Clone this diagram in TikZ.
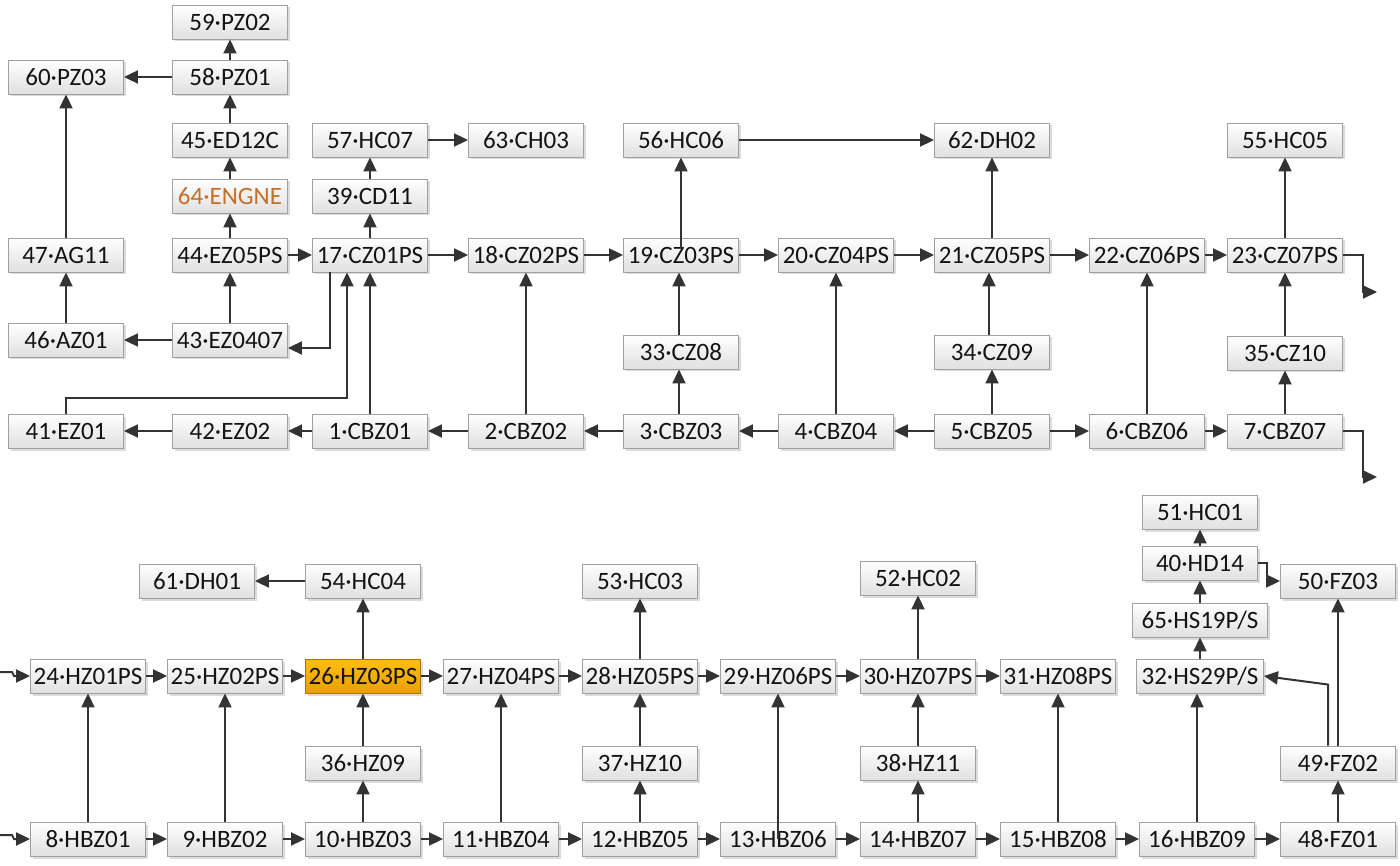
\documentclass[tikz,border=0pt]{standalone}
\usepackage{fontspec}
\setmainfont{Carlito}
\usetikzlibrary{arrows.meta,shadows,calc}
\definecolor{linec}{HTML}{333333}
\definecolor{textc}{HTML}{141414}
\definecolor{orangetxt}{HTML}{C5702A}
\definecolor{boxborder}{HTML}{A0A0A0}
\definecolor{boxbottom}{HTML}{E0E0E0}
\definecolor{hottop}{HTML}{FFBF10}
\definecolor{hotbottom}{HTML}{E8A000}
\definecolor{hotborder}{HTML}{A87400}
\tikzset{
  box/.style={draw=boxborder, line width=0.9pt, top color=white, bottom color=boxbottom,
    minimum width=115pt, minimum height=34pt, inner sep=3pt, text=textc,
    font=\fontsize{25}{28}\selectfont,
    drop shadow={shadow xshift=2.5pt, shadow yshift=-2.5pt, fill=black, opacity=0.14}},
  hot/.style={box, top color=hottop, bottom color=hotbottom, draw=hotborder},
  arr/.style={draw=linec, line width=2pt, -{Triangle[length=14pt,width=13pt]}},
}
\begin{document}
\begin{tikzpicture}[x=1pt,y=-1pt]
\fill[white] (0,0) rectangle (1400,866);
\useasboundingbox (0,0) rectangle (1400,866);
% ---------- top section ----------
\node[box] (n59) at (230,22) {59·PZ02};
\node[box] (n58) at (230,77) {58·PZ01};
\node[box] (n60) at (66,77) {60·PZ03};
\node[box] (n45) at (230,140) {45·ED12C};
\node[box] (n57) at (370,140) {57·HC07};
\node[box] (n63) at (526,140) {63·CH03};
\node[box] (n56) at (681,140) {56·HC06};
\node[box] (n62) at (992,140) {62·DH02};
\node[box] (n55) at (1285,140) {55·HC05};
\node[box, text=orangetxt] (n64) at (230,196) {64·ENGNE};
\node[box] (n39) at (370,196) {39·CD11};
\node[box] (n47) at (66,255) {47·AG11};
\node[box] (n44) at (230,255) {44·EZ05PS};
\node[box] (n17) at (370,255) {17·CZ01PS};
\node[box] (n18) at (526,255) {18·CZ02PS};
\node[box] (n19) at (681,255) {19·CZ03PS};
\node[box] (n20) at (836,255) {20·CZ04PS};
\node[box] (n21) at (992,255) {21·CZ05PS};
\node[box] (n22) at (1147,255) {22·CZ06PS};
\node[box] (n23) at (1285,255) {23·CZ07PS};
\node[box] (n46) at (66,340) {46·AZ01};
\node[box] (n43) at (230,340) {43·EZ0407};
\node[box] (n33) at (681,352) {33·CZ08};
\node[box] (n34) at (992,352) {34·CZ09};
\node[box] (n35) at (1285,353) {35·CZ10};
\node[box] (n41) at (66,431) {41·EZ01};
\node[box] (n42) at (230,431) {42·EZ02};
\node[box] (n1) at (370,431) {1·CBZ01};
\node[box] (n2) at (526,431) {2·CBZ02};
\node[box] (n3) at (681,431) {3·CBZ03};
\node[box] (n4) at (836,431) {4·CBZ04};
\node[box] (n5) at (992,431) {5·CBZ05};
\node[box] (n6) at (1147,431) {6·CBZ06};
\node[box] (n7) at (1285,431) {7·CBZ07};
% ---------- bottom section ----------
\node[box] (n51) at (1200,512) {51·HC01};
\node[box] (n40) at (1200,563) {40·HD14};
\node[box] (n50) at (1338,581) {50·FZ03};
\node[box, minimum width=135pt] (n65) at (1200,620) {65·HS19P/S};
\node[box, minimum width=127pt] (n32) at (1200,676) {32·HS29P/S};
\node[box] (n49) at (1338,763) {49·FZ02};
\node[box] (n61) at (197,581) {61·DH01};
\node[box] (n54) at (363,581) {54·HC04};
\node[box] (n53) at (640,581) {53·HC03};
\node[box] (n52) at (918,578) {52·HC02};
\node[box] (n24) at (88,676) {24·HZ01PS};
\node[box] (n25) at (225,676) {25·HZ02PS};
\node[hot] (n26) at (363,676) {26·HZ03PS};
\node[box] (n27) at (501,676) {27·HZ04PS};
\node[box] (n28) at (640,676) {28·HZ05PS};
\node[box] (n29) at (778,676) {29·HZ06PS};
\node[box] (n30) at (918,676) {30·HZ07PS};
\node[box] (n31) at (1058,676) {31·HZ08PS};
\node[box] (n36) at (363,763) {36·HZ09};
\node[box] (n37) at (640,763) {37·HZ10};
\node[box] (n38) at (918,763) {38·HZ11};
\node[box] (n8) at (88,839) {8·HBZ01};
\node[box] (n9) at (225,839) {9·HBZ02};
\node[box] (n10) at (363,839) {10·HBZ03};
\node[box] (n11) at (501,839) {11·HBZ04};
\node[box] (n12) at (640,839) {12·HBZ05};
\node[box] (n13) at (778,839) {13·HBZ06};
\node[box] (n14) at (918,839) {14·HBZ07};
\node[box] (n15) at (1058,839) {15·HBZ08};
\node[box] (n16) at (1197,839) {16·HBZ09};
\node[box] (n48) at (1338,839) {48·FZ01};
% free ends
\coordinate (out23) at (1377,292);
\coordinate (out7) at (1377,477);
\coordinate (in24) at (0,672);
\coordinate (in8) at (0,835);
% ---------- top connectors ----------
\draw[arr] (n58) -- (n59);
\draw[arr] (n58) -- (n60);
\draw[arr] (n45) -- (n58);
\draw[arr] (n64) -- (n45);
\draw[arr] (n44) -- (n64);
\draw[arr] (n47) -- (n60);
\draw[arr] (n46) -- (n47);
\draw[arr] (n43) -- (n46);
\draw[arr] (n43) -- (n44);
\draw[arr] (n44) -- (n17);
\draw[arr] (n17) -- (n39);
\draw[arr] (n39) -- (n57);
\draw[arr] (n57) -- (n63);
\draw[arr] ([xshift=-40pt]n17.south) |- ([yshift=-8pt]n43.east);
\draw[arr] (n41.north) -- ++(0,-16) -| ([xshift=-23pt]n17.south);
\draw[arr] (n1) -- (n17);
\draw[arr] (n1) -- (n42);
\draw[arr] (n42) -- (n41);
\draw[arr] (n2) -- (n1);
\draw[arr] (n3) -- (n2);
\draw[arr] (n4) -- (n3);
\draw[arr] (n5) -- (n4);
\draw[arr] (n5) -- (n6);
\draw[arr] (n6) -- (n7);
\draw[arr] (n17) -- (n18);
\draw[arr] (n18) -- (n19);
\draw[arr] (n19) -- (n20);
\draw[arr] (n20) -- (n21);
\draw[arr] (n21) -- (n22);
\draw[arr] (n22) -- (n23);
\draw[arr] (n2) -- (n18);
\draw[arr] ([xshift=-2pt]n3.north) -- ([xshift=-2pt]n33.south);
\draw[arr] ([xshift=-2pt]n33.north) -- ([xshift=-2pt]n19.south);
\draw[arr] ([yshift=-10pt]n19.north) -- (n56.south);
\draw[arr] (n4) -- (n20);
\draw[arr] (n5) -- (n34);
\draw[arr] ([xshift=-3pt]n34.north) -- ([xshift=-3pt]n21.south);
\draw[arr] (n21) -- (n62);
\draw[arr] (n56) -- (n62);
\draw[arr] (n6) -- (n22);
\draw[arr] (n7) -- (n35);
\draw[arr] (n35) -- (n23);
\draw[arr] (n23) -- (n55);
\draw[arr] (n23.east) -- (1363,255) |- (out23);
\draw[arr] (n7.east) -- (1363,431) |- (out7);
% ---------- bottom connectors ----------
\draw[arr] (in24) -- ++(12,0) -- ++(2,4) -- (n24.west);
\draw[arr] (in8) -- ++(12,0) -- ++(2,4) -- (n8.west);
\draw[arr] (n24) -- (n25);
\draw[arr] (n25) -- (n26);
\draw[arr] (n26) -- (n27);
\draw[arr] (n27) -- (n28);
\draw[arr] (n28) -- (n29);
\draw[arr] (n29) -- (n30);
\draw[arr] (n30) -- (n31);
\draw[arr] (n8) -- (n24);
\draw[arr] (n9) -- (n25);
\draw[arr] (n10) -- (n36);
\draw[arr] (n36) -- (n26);
\draw[arr] (n26) -- (n54);
\draw[arr] (n54) -- (n61);
\draw[arr] (n11) -- (n27);
\draw[arr] (n12) -- (n37);
\draw[arr] (n37) -- (n28);
\draw[arr] (n28) -- (n53);
\draw[arr] ([yshift=-17pt]n13.north) -- (n29.south);
\draw[arr] (n14) -- (n38);
\draw[arr] (n38) -- (n30);
\draw[arr] (n30) -- (n52);
\draw[arr] (n15) -- (n31);
\draw[arr] (n16.north) -- ([xshift=-3pt]n32.south);
\draw[arr] (n32) -- (n65);
\draw[arr] (n65) -- (n40);
\draw[arr] (n40) -- (n51);
\draw[arr] (n40.east) -- ++(9,0) |- (n50.west);
\draw[arr] ([xshift=-10pt]n49.north) -- ++(0,-61) -- (n32.east);
\draw[arr] (n49) -- (n50);
\draw[arr] (n48) -- (n49);
\draw[arr] (n8) -- (n9);
\draw[arr] (n9) -- (n10);
\draw[arr] (n10) -- (n11);
\draw[arr] (n11) -- (n12);
\draw[arr] (n12) -- (n13);
\draw[arr] (n13) -- (n14);
\draw[arr] (n14) -- (n15);
\draw[arr] (n15) -- (n16);
\draw[arr] (n16) -- (n48);
\end{tikzpicture}
\end{document}
